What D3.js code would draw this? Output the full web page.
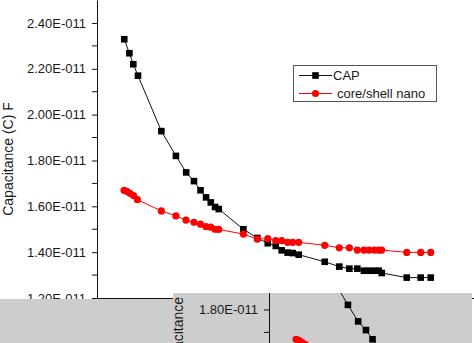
<!DOCTYPE html>
<html>
<head>
<meta charset="utf-8">
<script src="https://cdn.jsdelivr.net/npm/d3@7"></script>
<style>
  html, body { margin: 0; padding: 0; background: #fff; }
  svg { display: block; font-family: "Liberation Sans", Arial, sans-serif; }
</style>
</head>
<body>
<svg id="chart" width="474" height="343"></svg>
<script>
// Capacitance in units of 1E-011 F
const capX = [1.33, 1.58, 1.77, 2.00, 3.14, 3.85, 4.35, 4.73, 5.05, 5.32, 5.55, 5.76, 5.94,
  7.14, 7.82, 8.33, 8.72, 9.01, 9.30, 9.55, 9.84, 11.11, 11.82, 12.31, 12.70, 13.02, 13.27,
  13.53, 13.74, 13.89, 15.11, 15.79, 16.28];
const capValues = [2.329, 2.268, 2.220, 2.170, 1.928, 1.820, 1.748, 1.710, 1.670, 1.639, 1.617,
  1.597, 1.588, 1.500, 1.462, 1.439, 1.427, 1.408, 1.398, 1.396, 1.389, 1.358, 1.337, 1.328,
  1.328, 1.319, 1.319, 1.319, 1.319, 1.309, 1.289, 1.289, 1.289];

const nanoX = [1.32, 1.46, 1.61, 1.78, 1.97, 3.14, 3.85, 4.34, 4.73, 5.05, 5.32, 5.55, 5.76, 5.94,
  7.14, 7.82, 8.33, 8.72, 9.01, 9.30, 9.55, 9.84, 11.11, 11.82, 12.31, 12.70, 13.02, 13.27,
  13.53, 13.74, 13.89, 15.11, 15.79, 16.28];
const nanoValues = [1.670, 1.665, 1.657, 1.647, 1.629, 1.580, 1.558, 1.540, 1.530, 1.522, 1.511,
  1.509, 1.500, 1.499, 1.479, 1.457, 1.459, 1.450, 1.450, 1.443, 1.443, 1.443, 1.430, 1.419,
  1.419, 1.409, 1.409, 1.409, 1.409, 1.409, 1.409, 1.399, 1.399, 1.399];

const seriesNames = ["CAP", "core/shell nano"];
const yMajorTicks = [1.2, 1.4, 1.6, 1.8, 2.0, 2.2, 2.4];
const yMinorTicks = [1.3, 1.5, 1.7, 1.9, 2.1, 2.3];
const xTicks = d3.range(0, 19, 1);
const yLabel = "Capacitance (C) F";

const svg = d3.select("#chart");

const x = d3.scaleLinear().domain([0, 20]).range([97, 507]);
const y = d3.scaleLinear().domain([1.2, 2.5]).range([298, 0.04]);

// opts.labels: which y tick labels to write; opts.legend: draw the legend box;
// opts.titleX / opts.titleY: anchor of the rotated axis title
function drawPlot(g, opts) {
  // x axis (its labels sit below the visible area)
  g.append("g")
    .attr("transform", `translate(0,${y(1.2)})`)
    .call(d3.axisBottom(x).tickValues(xTicks).tickSize(5).tickSizeOuter(0).tickFormat(""))
    .call(a => a.selectAll("path, line").attr("stroke", "#111"));

  // y axis with major labels and minor ticks
  const yAxis = g.append("g").attr("transform", `translate(${x(0)},0)`);
  yAxis.call(d3.axisLeft(y).tickValues(yMajorTicks).tickSize(5).tickSizeOuter(0)
      .tickPadding(6).tickFormat(d => d.toFixed(2) + "E-011"))
    .call(a => a.selectAll("path, line").attr("stroke", "#111"))
    .call(a => a.selectAll("text").attr("font-size", 13).attr("fill", "#1a1a1a")
      .attr("font-family", "Liberation Sans, Arial, sans-serif"));
  yAxis.selectAll(".tick text").filter(d => !opts.labels.includes(d)).remove();
  yAxis.selectAll(".minor").data(yMinorTicks).join("line")
    .attr("class", "minor")
    .attr("x1", -5).attr("x2", 0)
    .attr("y1", d => y(d)).attr("y2", d => y(d))
    .attr("stroke", "#111");

  g.append("text")
    .attr("transform", `translate(${opts.titleX},${opts.titleY}) rotate(-90)`)
    .attr("text-anchor", "middle")
    .attr("font-size", 14)
    .attr("fill", "#1a1a1a")
    .text(yLabel);

  const line = d3.line().x(d => x(d[0])).y(d => y(d[1]));
  const capData = capX.map((v, i) => [v, capValues[i]]);
  const nanoData = nanoX.map((v, i) => [v, nanoValues[i]]);

  // CAP series
  g.append("path").datum(capData).attr("d", line)
    .attr("fill", "none").attr("stroke", "#111").attr("stroke-width", 1);
  g.selectAll(".cap").data(capData).join("rect")
    .attr("class", "cap")
    .attr("x", d => x(d[0]) - 3.3).attr("y", d => y(d[1]) - 3.3)
    .attr("width", 6.6).attr("height", 6.6)
    .attr("fill", "#000");

  // core/shell nano series
  g.append("path").datum(nanoData).attr("d", line)
    .attr("fill", "none").attr("stroke", "#f00").attr("stroke-width", 1);
  g.selectAll(".nano").data(nanoData).join("circle")
    .attr("class", "nano")
    .attr("cx", d => x(d[0])).attr("cy", d => y(d[1]))
    .attr("r", 3.6)
    .attr("fill", "#f00");

  if (!opts.legend) return;
  const lg = g.append("g");
  lg.append("rect").attr("x", 293.5).attr("y", 65.5).attr("width", 143).attr("height", 36)
    .attr("fill", "#fff").attr("stroke", "#555").attr("stroke-width", 1);
  const items = [
    { name: seriesNames[0], color: "#111", mark: "square", y: 75.5, tx: 333 },
    { name: seriesNames[1], color: "#f00", mark: "circle", y: 93.5, tx: 337 }
  ];
  items.forEach(it => {
    lg.append("line").attr("x1", 299).attr("x2", 332).attr("y1", it.y).attr("y2", it.y)
      .attr("stroke", it.color).attr("stroke-width", 1);
    if (it.mark === "square") {
      lg.append("rect").attr("x", 315.5 - 3.3).attr("y", it.y - 3.3)
        .attr("width", 6.6).attr("height", 6.6).attr("fill", "#000");
    } else {
      lg.append("circle").attr("cx", 315.5).attr("cy", it.y).attr("r", 3.6).attr("fill", "#f00");
    }
    lg.append("text").attr("x", it.tx).attr("y", it.y + 4.5)
      .attr("font-size", 13).attr("fill", "#1a1a1a").text(it.name);
  });
}

// main plot
drawPlot(svg.append("g"), { labels: yMajorTicks, legend: true, titleX: 13, titleY: 159 });

// grey panel along the bottom, with an enlarged-view strip on its right part
svg.append("rect").attr("x", 0).attr("y", 299).attr("width", 174).attr("height", 44)
  .attr("fill", "#cdcdcd");

svg.append("clipPath").attr("id", "panelClip")
  .append("rect").attr("x", 173).attr("y", 293).attr("width", 299).attr("height", 50);
const panel = svg.append("g").attr("clip-path", "url(#panelClip)");
panel.append("rect").attr("x", 173).attr("y", 293).attr("width", 299).attr("height", 50)
  .attr("fill", "#cdcdcd");
const panelPlot = panel.append("g").attr("transform", "translate(172,149)");
drawPlot(panelPlot, { labels: [1.8], legend: false, titleX: 11, titleY: 169 });
</script>
</body>
</html>
